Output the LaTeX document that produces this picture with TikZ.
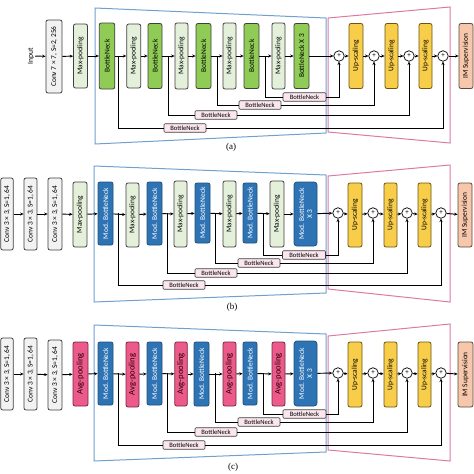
\documentclass[tikz,border=0pt]{standalone}
\usepackage{fontspec}
\setmainfont{Carlito}
\newfontfamily\capfont{Liberation Serif}
\usetikzlibrary{arrows.meta}
\definecolor{bord}{HTML}{3F3F3F}
\definecolor{convf}{HTML}{F2F2F2}
\definecolor{mpf}{HTML}{E4F0DA}
\definecolor{bnf}{HTML}{8FCB55}
\definecolor{mbnf}{HTML}{2E74B5}
\definecolor{mbnd}{HTML}{1F4E79}
\definecolor{apf}{HTML}{EC5A8C}
\definecolor{apd}{HTML}{7A2440}
\definecolor{upf}{HTML}{F7CD4A}
\definecolor{upd}{HTML}{6B5512}
\definecolor{imf}{HTML}{F6C7AA}
\definecolor{imd}{HTML}{5A4A40}
\definecolor{labf}{HTML}{FBE6EE}
\definecolor{frameblue}{HTML}{6FA0D0}
\definecolor{framepink}{HTML}{DC7AA3}
\begin{document}
\begin{tikzpicture}[x=1pt,y=-1pt,
  box/.style={draw=bord,line width=0.8pt,rounded corners=2pt,rotate=90,inner sep=0pt,align=center,font=\fontsize{7.4}{8}\selectfont,minimum height=14},
  convb/.style={box,fill=convf},
  mpb/.style={box,fill=mpf},
  bnb/.style={box,fill=bnf},
  mbnb/.style={box,fill=mbnf,draw=mbnd,text=white},
  apb/.style={box,fill=apf,draw=apd,text=black!85!red,font=\fontsize{8.6}{9}\selectfont},
  upb/.style={box,fill=upf,draw=upd},
  imb/.style={box,fill=imf,draw=imd},
  plus/.style={circle,draw=black,fill=white,line width=0.7pt,minimum size=10.5,inner sep=0pt,font=\fontsize{7}{7}\selectfont},
  lab/.style={draw=bord,fill=labf,line width=0.6pt,rounded corners=1pt,minimum width=42,minimum height=8.5,inner sep=0pt,font=\fontsize{6.6}{7}\selectfont},
  arr/.style={line width=0.95pt,-{Stealth[length=3.4pt,width=3pt]}},
  bluefr/.style={draw=frameblue,line width=1pt},
  pinkfr/.style={draw=framepink,line width=1pt},
  captxt/.style={font=\capfont\fontsize{9}{9}\selectfont}
]
\useasboundingbox (0,0) rectangle (474,474);

% ---------------- frames ----------------
\draw[bluefr] (95,8) -- (326,18) -- (326,133) -- (95,144) -- cycle;
\draw[pinkfr] (328,18) -- (450,7) -- (450,143) -- (328,132) -- cycle;
\draw[bluefr] (94,166) -- (326,175) -- (326,293) -- (94,302) -- cycle;
\draw[pinkfr] (328,176) -- (450,165) -- (450,302) -- (328,289) -- cycle;
\draw[bluefr] (94,325) -- (326,334) -- (326,452) -- (94,461) -- cycle;
\draw[pinkfr] (328,336) -- (450,324) -- (450,461) -- (328,450) -- cycle;

% ---------------- panel (a) ----------------
\node[rotate=90,font=\fontsize{7.6}{8}\selectfont,inner sep=1pt] (a-in) at (31,56) {Input};
\node[convb,minimum width=73,minimum height=16] (a-conv) at (54,56.5) {Conv 7 × 7, S=2, 256};
\node[mpb,minimum width=64] (a-mp1) at (80.5,56) {Max-pooling};
\node[bnb,minimum width=66,minimum height=15.5] (a-bn1) at (107,56) {BottleNeck};
\node[mpb,minimum width=64] (a-mp2) at (133.7,56) {Max-pooling};
\node[bnb,minimum width=65] (a-bn2) at (155,56) {BottleNeck};
\node[mpb,minimum width=66,minimum height=13] (a-mp3) at (181.5,56) {Max-pooling};
\node[bnb,minimum width=65,minimum height=15] (a-bn3) at (203.5,56) {BottleNeck};
\node[mpb,minimum width=66,minimum height=13] (a-mp4) at (229.5,56) {Max-pooling};
\node[bnb,minimum width=65,minimum height=15] (a-bn4) at (251.5,56) {BottleNeck};
\node[mpb,minimum width=66,minimum height=13] (a-mp5) at (278.5,56) {Max-pooling};
\node[bnb,minimum width=65,minimum height=15] (a-bn5) at (301.5,56) {BottleNeck X 3};
\node[plus] (a-p1) at (339,56) {+};
\node[upb,minimum width=65] (a-up1) at (356,56) {Up-scaling};
\node[plus] (a-p2) at (374,56) {+};
\node[upb,minimum width=65,minimum height=13] (a-up2) at (391.5,56) {Up-scaling};
\node[plus] (a-p3) at (409,56) {+};
\node[upb,minimum width=65,minimum height=13] (a-up3) at (425.5,56) {Up-scaling};
\node[plus] (a-p4) at (443,56) {+};
\node[imb,minimum width=65] (a-im) at (466,56) {IM Supervision};
\foreach \u/\v in {a-in/a-conv,a-conv/a-mp1,a-mp1/a-bn1,a-bn1/a-mp2,a-mp2/a-bn2,a-bn2/a-mp3,a-mp3/a-bn3,a-bn3/a-mp4,a-mp4/a-bn4,a-bn4/a-mp5,a-mp5/a-bn5,a-bn5/a-p1,a-p1/a-up1,a-up1/a-p2,a-p2/a-up2,a-up2/a-p3,a-p3/a-up3,a-up3/a-p4,a-p4/a-im}
  \draw[arr] (\u) -- (\v);
\coordinate (a-s1) at (118,56);
\coordinate (a-s2) at (168,56);
\coordinate (a-s3) at (217,56);
\coordinate (a-s4) at (265,56);
\node[lab] (a-l1) at (185,128) {BottleNeck};
\node[lab] (a-l2) at (216,115) {BottleNeck};
\node[lab] (a-l3) at (260,105) {BottleNeck};
\node[lab,minimum width=43] (a-l4) at (304.5,97) {BottleNeck};
\draw[arr] (a-s1) |- (a-l1) -| (a-p4);
\draw[arr] (a-s2) |- (a-l2) -| (a-p3);
\draw[arr] (a-s3) |- (a-l3) -| (a-p2);
\draw[arr] (a-s4) |- (a-l4) -| (a-p1);
\node[captxt] (a-cap) at (231,147) {(a)};

% ---------------- panel (b) ----------------
\node[convb,minimum width=72,minimum height=12.5] (b-c1) at (7,214) {Conv 3 × 3, S=1, 64};
\node[convb,minimum width=72,minimum height=13] (b-c2) at (30.5,214) {Conv 3 × 3, S=1, 64};
\node[convb,minimum width=72,minimum height=14] (b-c3) at (55,214) {Conv 3 × 3, S=1, 64};
\node[mpb,minimum width=65] (b-mp1) at (80,214.5) {Max-pooling};
\node[mbnb,minimum width=63,minimum height=15] (b-bn1) at (105.5,213.5) {Mod. BottleNeck};
\node[mpb,minimum width=64,minimum height=13] (b-mp2) at (132.5,215) {Max-pooling};
\node[mbnb,minimum width=63,minimum height=15] (b-bn2) at (154.5,213.5) {Mod. BottleNeck};
\node[mpb,minimum width=66,minimum height=13] (b-mp3) at (180.5,214) {Max-pooling};
\node[mbnb,minimum width=60,minimum height=15] (b-bn3) at (202.5,213) {Mod. BottleNeck};
\node[mpb,minimum width=66,minimum height=13] (b-mp4) at (229.5,214) {Max-pooling};
\node[mbnb,minimum width=60,minimum height=14] (b-bn4) at (250,213) {Mod. BottleNeck};
\node[mpb,minimum width=66,minimum height=14] (b-mp5) at (277,214) {Max-pooling};
\node[mbnb,minimum width=64,minimum height=23,rounded corners=3pt] (b-bn5) at (305.5,214) {Mod. BottleNeck\\X 3};
\node[plus] (b-p1) at (338,213) {+};
\node[upb,minimum width=64] (b-up1) at (355,215) {Up-scaling};
\node[plus] (b-p2) at (373,213) {+};
\node[upb,minimum width=64,minimum height=13] (b-up2) at (390.5,215) {Up-scaling};
\node[plus] (b-p3) at (407,213) {+};
\node[upb,minimum width=64,minimum height=13] (b-up3) at (424.5,215) {Up-scaling};
\node[plus] (b-p4) at (441,213) {+};
\node[imb,minimum width=64] (b-im) at (465,215) {IM Supervision};
\foreach \u/\v in {b-c1/b-c2,b-c2/b-c3,b-c3/b-mp1,b-mp1/b-bn1,b-bn1/b-mp2,b-mp2/b-bn2,b-bn2/b-mp3,b-mp3/b-bn3,b-bn3/b-mp4,b-mp4/b-bn4,b-bn4/b-mp5,b-mp5/b-bn5,b-bn5/b-p1,b-p1/b-up1,b-up1/b-p2,b-p2/b-up2,b-up2/b-p3,b-p3/b-up3,b-up3/b-p4,b-p4/b-im}
  \draw[arr] (\u) -- (\v);
\coordinate (b-s1) at (118,213);
\coordinate (b-s2) at (167,213);
\coordinate (b-s3) at (215,213);
\coordinate (b-s4) at (263,213);
\node[lab] (b-l1) at (184,285) {BottleNeck};
\node[lab] (b-l2) at (216,273) {BottleNeck};
\node[lab] (b-l3) at (259,263) {BottleNeck};
\node[lab,minimum width=43] (b-l4) at (304,255) {BottleNeck};
\draw[arr] (b-s1) |- (b-l1) -| (b-p4);
\draw[arr] (b-s2) |- (b-l2) -| (b-p3);
\draw[arr] (b-s3) |- (b-l3) -| (b-p2);
\draw[arr] (b-s4) |- (b-l4) -| (b-p1);
\node[captxt] (b-cap) at (232,307) {(b)};

% ---------------- panel (c) ----------------
\node[convb,minimum width=72,minimum height=12.5] (c-c1) at (7,374) {Conv 3 × 3, S=1, 64};
\node[convb,minimum width=72,minimum height=13] (c-c2) at (30.5,374) {Conv 3 × 3, S=1, 64};
\node[convb,minimum width=70,minimum height=14] (c-c3) at (55,375) {Conv 3 × 3, S=1, 64};
\node[apb,minimum width=64,minimum height=15] (c-ap1) at (80.5,374) {Avg-pooling};
\node[mbnb,minimum width=63,minimum height=15] (c-bn1) at (105.5,373.5) {Mod. BottleNeck};
\node[apb,minimum width=65,minimum height=13] (c-ap2) at (132.5,374.5) {Avg-pooling};
\node[mbnb,minimum width=63,minimum height=15] (c-bn2) at (154.5,373.5) {Mod. BottleNeck};
\node[apb,minimum width=64,minimum height=12.5] (c-ap3) at (181,374) {Avg-pooling};
\node[mbnb,minimum width=64,minimum height=15] (c-bn3) at (201.5,374) {Mod. BottleNeck};
\node[apb,minimum width=64,minimum height=13] (c-ap4) at (229.5,374) {Avg-pooling};
\node[mbnb,minimum width=63,minimum height=14] (c-bn4) at (250,373.5) {Mod. BottleNeck};
\node[apb,minimum width=64,minimum height=13] (c-ap5) at (278.5,374) {Avg-pooling};
\node[mbnb,minimum width=65,minimum height=23,rounded corners=3pt] (c-bn5) at (305.5,373.5) {Mod. BottleNeck\\X 3};
\node[plus] (c-p1) at (338,373) {+};
\node[upb,minimum width=65] (c-up1) at (355,374.5) {Up-scaling};
\node[plus] (c-p2) at (373,373) {+};
\node[upb,minimum width=65,minimum height=13] (c-up2) at (390.5,374.5) {Up-scaling};
\node[plus] (c-p3) at (407,373) {+};
\node[upb,minimum width=65,minimum height=13] (c-up3) at (424.5,374.5) {Up-scaling};
\node[plus] (c-p4) at (441,373) {+};
\node[imb,minimum width=65,minimum height=15] (c-im) at (465.5,374.5) {IM Supervision};
\foreach \u/\v in {c-c1/c-c2,c-c2/c-c3,c-c3/c-ap1,c-ap1/c-bn1,c-bn1/c-ap2,c-ap2/c-bn2,c-bn2/c-ap3,c-ap3/c-bn3,c-bn3/c-ap4,c-ap4/c-bn4,c-bn4/c-ap5,c-ap5/c-bn5,c-bn5/c-p1,c-p1/c-up1,c-up1/c-p2,c-p2/c-up2,c-up2/c-p3,c-p3/c-up3,c-up3/c-p4,c-p4/c-im}
  \draw[arr] (\u) -- (\v);
\coordinate (c-s1) at (118,373);
\coordinate (c-s2) at (167,373);
\coordinate (c-s3) at (215,373);
\coordinate (c-s4) at (263,373);
\node[lab] (c-l1) at (184,445) {BottleNeck};
\node[lab] (c-l2) at (216,432) {BottleNeck};
\node[lab] (c-l3) at (259,422) {BottleNeck};
\node[lab,minimum width=43] (c-l4) at (304.5,414) {BottleNeck};
\draw[arr] (c-s1) |- (c-l1) -| (c-p4);
\draw[arr] (c-s2) |- (c-l2) -| (c-p3);
\draw[arr] (c-s3) |- (c-l3) -| (c-p2);
\draw[arr] (c-s4) |- (c-l4) -| (c-p1);
\node[captxt] (c-cap) at (233,467) {(c)};
\end{tikzpicture}
\end{document}
